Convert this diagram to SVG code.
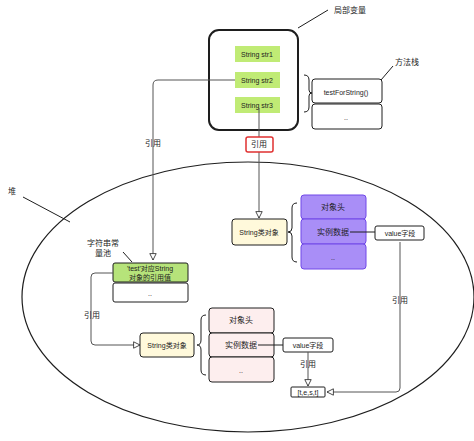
<svg xmlns="http://www.w3.org/2000/svg" width="474" height="441" viewBox="0 0 474 441">
<defs>
<style>
text{font-family:"Liberation Sans","Noto Sans CJK SC",sans-serif;font-size:8px;fill:#1e1e1e;text-anchor:middle;dominant-baseline:central}
.s{font-size:7px}
.box{stroke:#1e1e1e;stroke-width:1}
.ln{fill:none;stroke:#1e1e1e;stroke-width:1}
.ln2{fill:none;stroke:#555;stroke-width:1}
</style>
<marker id="ar" viewBox="0 0 10 10" refX="9" refY="5" markerWidth="8" markerHeight="8" orient="auto" markerUnits="userSpaceOnUse">
<path d="M1,1 L9,5 L1,9 Z" fill="#fff" stroke="#1e1e1e" stroke-width="1"/>
</marker>
</defs>
<rect width="474" height="441" fill="#fff"/>

<g id="heap">
<ellipse cx="248" cy="297" rx="226" ry="135" fill="none" stroke="#1e1e1e" stroke-width="1.2"/>
<line x1="23" y1="197" x2="70" y2="222" class="ln"/>
<text x="12" y="191">堆</text>
</g>

<g id="local-vars">
<rect x="209" y="30" width="89" height="100" rx="10" fill="#fff" stroke="#1e1e1e" stroke-width="2"/>
<line x1="298" y1="28" x2="328" y2="10" class="ln"/>
<text x="350" y="10">局部变量</text>
</g>
<g id="str1"><rect x="235" y="46" width="45" height="16" fill="#c0eb75"/><text x="257" y="54" class="s">String str1</text></g>
<g id="str2"><rect x="235" y="72" width="45" height="16" fill="#c0eb75"/><text x="257" y="80" class="s">String str2</text></g>
<g id="str3"><rect x="235" y="97" width="45" height="16" fill="#c0eb75"/><text x="257" y="105" class="s">String str3</text></g>

<g id="method-stack">
<rect x="312" y="79" width="70" height="24" rx="3" fill="#fff" class="box"/>
<text x="346" y="92" class="s">testForString()</text>
<rect x="312" y="104" width="70" height="25" rx="3" fill="#fff" class="box"/>
<text x="346" y="117" class="s">..</text>
<path d="M304,75 Q309,75 309,80 L309,90 Q309,93 312,93 Q309,93 309,96 L309,107 Q309,112 304,112" class="ln"/>
<line x1="381" y1="80" x2="393" y2="66" class="ln"/>
<text x="407" y="62">方法栈</text>
</g>

<g id="pool">
<rect x="113" y="263" width="75" height="19" rx="2" fill="#b6e37a" class="box"/>
<text x="150" y="268" class="s">'test'对应String</text>
<text x="150" y="277" class="s">对象的引用值</text>
<rect x="113" y="283" width="75" height="19" rx="2" fill="#fff" class="box"/>
<text x="150" y="293" class="s">..</text>
<text x="103" y="243">字符串常</text>
<text x="103" y="253">量池</text>
<line x1="123" y1="252" x2="132" y2="262" class="ln"/>
</g>

<g id="obj1">
<rect x="232" y="219" width="55" height="26" rx="3" fill="#fff9db" class="box"/>
<text x="259" y="232" class="s">String类对象</text>
<path d="M297,203 Q292,203 292,208 L292,228 Q292,232 288,232 Q292,232 292,236 L292,257 Q292,262 297,262" class="ln"/>
</g>
<g id="obj1-fields">
<rect x="301" y="195" width="65" height="24" rx="3" fill="#a98ef7" stroke="#7048e8" stroke-width="1"/>
<text x="333" y="207">对象头</text>
<rect x="301" y="219" width="65" height="25" rx="3" fill="#a98ef7" stroke="#7048e8" stroke-width="1"/>
<text x="333" y="232">实例数据</text>
<rect x="301" y="244" width="65" height="25" rx="3" fill="#a98ef7" stroke="#7048e8" stroke-width="1"/>
<text x="333" y="257" class="s">..</text>
</g>
<g id="value1"><rect x="375" y="226" width="49" height="14" rx="2" fill="#fff" class="box"/><text x="400" y="233" class="s">value字段</text></g>

<g id="obj2">
<rect x="140" y="333" width="54" height="24" rx="3" fill="#fff9db" class="box"/>
<text x="167" y="345" class="s">String类对象</text>
<path d="M206,315 Q201,315 201,320 L201,340 Q201,345 197,345 Q201,345 201,350 L201,370 Q201,375 206,375" class="ln"/>
</g>
<g id="obj2-fields">
<rect x="209" y="308" width="65" height="25" rx="3" fill="#fdeeee" class="box"/>
<text x="241" y="320">对象头</text>
<rect x="209" y="333" width="65" height="24" rx="3" fill="#fdeeee" class="box"/>
<text x="241" y="345">实例数据</text>
<rect x="209" y="357" width="65" height="25" rx="3" fill="#fdeeee" class="box"/>
<text x="241" y="370" class="s">..</text>
</g>
<g id="value2"><rect x="283" y="338" width="50" height="14" rx="2" fill="#fff" class="box"/><text x="308" y="345" class="s">value字段</text></g>
<g id="chars"><rect x="291" y="387" width="34" height="10" rx="1" fill="#fff" class="box"/><text x="308" y="392" class="s">[t,e,s,t]</text></g>

<g id="connectors">
<path d="M235,80 L158,80 Q153,80 153,85 L153,260" class="ln2" marker-end="url(#ar)"/>
<text x="153" y="143">引用</text>
<line x1="259" y1="108" x2="259" y2="218" class="ln2" marker-end="url(#ar)"/>
<rect x="246" y="137" width="27" height="15" rx="2" fill="#fff" stroke="#e03131" stroke-width="1.5"/>
<text x="259" y="144">引用</text>
<path d="M113,273 L95,273 Q91,273 91,277 L91,341 Q91,345 95,345 L140,345" class="ln2" marker-end="url(#ar)"/>
<text x="92" y="315">引用</text>
<line x1="350" y1="232" x2="375" y2="232" class="ln"/>
<line x1="258" y1="345" x2="283" y2="345" class="ln"/>
<path d="M400,242 L400,388 Q400,392 396,392 L327,392" class="ln2" marker-end="url(#ar)"/>
<text x="400" y="300">引用</text>
<line x1="308" y1="352" x2="308" y2="386" class="ln2" marker-end="url(#ar)"/>
<text x="308" y="364">引用</text>
</g>
</svg>
